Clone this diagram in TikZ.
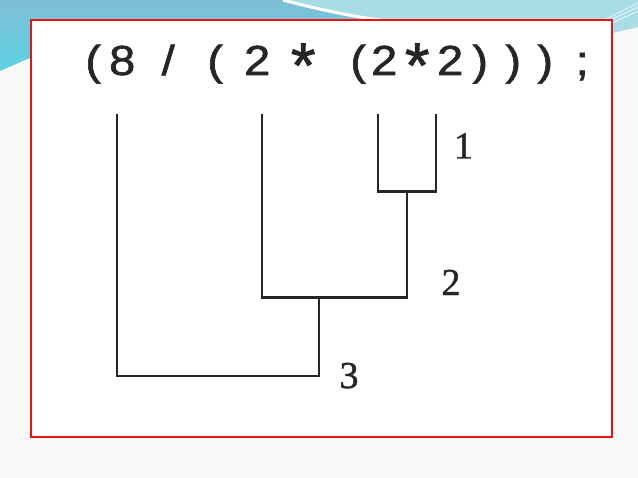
\documentclass[tikz,border=0pt]{standalone}
\usepackage{fontspec}
\usepackage{graphicx}
\newfontfamily\exprfont[FakeBold=1.4]{Liberation Sans}
\newfontfamily\labfont[FakeBold=1.2]{Liberation Serif}
\definecolor{bgcol}{HTML}{F7F8F8}
\definecolor{lightcyan}{HTML}{A9DDE6}
\definecolor{swtop}{HTML}{7FBED6}
\definecolor{swbot}{HTML}{5DD2E2}
\definecolor{framered}{HTML}{EE1111}
\definecolor{treeline}{HTML}{262626}
\newcommand\ech[1]{\makebox[0pt][c]{\scalebox{1.12}[1]{#1}}}
\newcommand\estar{\makebox[0pt][c]{\raisebox{-12bp}{\scalebox{1.5}{*}}}}
\begin{document}
\begin{tikzpicture}[x=1bp,y=-1bp,
  treeedge/.style={draw=treeline,line width=2.4bp,line cap=butt,line join=miter},
  levellabel/.style={anchor=base,inner sep=0pt,font=\labfont\fontsize{38bp}{40bp}\selectfont,text=treeline},
  frame/.style={draw=framered,line width=2bp,fill=white}]
\useasboundingbox (0,0) rectangle (638,478);
% slide background
\fill[bgcol] (0,0) rectangle (638,478);
\fill[lightcyan] (250,0) -- (638,0) -- (638,27) .. controls (630,29) .. (612,33) -- (612,21) -- (250,21) -- cycle;
\shade[top color=swtop,bottom color=swbot] (0,0) -- (285,0) .. controls (320,10) and (360,18) .. (385,21) -- (30,21) -- (30,58) -- (0,71) -- cycle;
\draw[white,line width=3bp] (283,0) .. controls (320,10) and (360,18) .. (388,21);
\draw[white,line width=1bp] (0,72) -- (32,58);
\draw[white,line width=0.6bp] (600,22) -- (638,3);
\draw[white,line width=0.6bp] (606,22) -- (638,7);
\draw[white,line width=0.6bp] (612,23) -- (638,11);
% frame
\draw[frame] (30.5,20.5) rectangle (612,437);
% expression
\node[anchor=base west,inner sep=0pt,font=\exprfont\fontsize{42bp}{48bp}\selectfont,text=treeline] (expr) at (93,75)
 {\ech{(}\hspace{29bp}\ech{8}\hspace{46bp}\ech{/}\hspace{47bp}\ech{(}\hspace{42bp}\ech{2}\hspace{46bp}\estar\hspace{55bp}\ech{(}\hspace{26bp}\ech{2}\hspace{33bp}\estar\hspace{33bp}\ech{2}\hspace{30bp}\ech{)}\hspace{33bp}\ech{)}\hspace{32bp}\ech{)}\hspace{37bp}\ech{;}};
% tree coordinates
\coordinate (leafA) at (117,114);
\coordinate (rootR) at (319,376);
\coordinate (rootT) at (319,297.5);
\coordinate (leafB) at (262,114);
\coordinate (midR) at (407,297.5);
\coordinate (midT) at (407,191.5);
\coordinate (leafC) at (378,114);
\coordinate (innR) at (436,191.5);
\coordinate (leafD) at (436,114);
\draw[treeedge] (leafA) |- (rootR) -- (rootT);
\draw[treeedge] (leafB) |- (midR) -- (midT);
\draw[treeedge] (leafC) |- (innR) -- (leafD);
% level labels
\node[levellabel] (lab1) at (463.5,158.5) {1};
\node[levellabel] (lab2) at (451,295) {2};
\node[levellabel] (lab3) at (349,388) {3};
\end{tikzpicture}
\end{document}
